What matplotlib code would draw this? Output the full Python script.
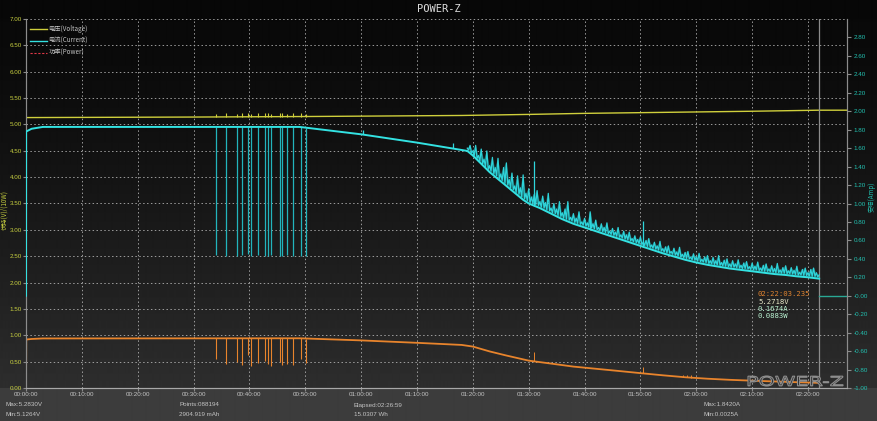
import numpy as np
import matplotlib.pyplot as plt
from matplotlib.lines import Line2D
from matplotlib.textpath import TextPath
from matplotlib.patches import PathPatch
from matplotlib.transforms import Affine2D, IdentityTransform

plt.rcParams['font.family'] = ['Liberation Sans', 'DejaVu Sans']
cjk = ['Noto Sans CJK SC', 'DejaVu Sans']

# ---- data (time in minutes) ----
x_ticks = [0, 10, 20, 30, 40, 50, 60, 70, 80, 90, 100, 110, 120, 130, 140]
x_labels = ['00:00:00', '00:10:00', '00:20:00', '00:30:00', '00:40:00', '00:50:00',
            '01:00:00', '01:10:00', '01:20:00', '01:30:00', '01:40:00', '01:50:00',
            '02:00:00', '02:10:00', '02:20:00']
t_end = 146.98      # Elapsed 02:26:59
t_cursor = 142.05   # 02:22:03.235

# voltage (V)
volt_t = [0, 30, 50, 78, 90, 100, 115, 130, 142, 146.98]
volt_v = [5.13, 5.14, 5.15, 5.17, 5.19, 5.21, 5.23, 5.25, 5.27, 5.27]

# current (A), baseline of the trace
cur_t = [0, 0.02, 1, 3, 49, 60, 70, 78, 79, 80, 81, 82, 83, 84, 85, 86, 87, 88, 89, 90,
         92, 94, 96, 98, 100, 102, 104, 106, 108, 110, 112, 114, 116, 118, 120, 122,
         124, 126, 128, 130, 132, 134, 136, 138, 140, 142]
cur_a = [0.0, 1.78, 1.81, 1.83, 1.83, 1.75, 1.66, 1.58, 1.57, 1.52, 1.46, 1.40, 1.34,
         1.29, 1.24, 1.19, 1.14, 1.09, 1.04, 1.00, 0.95, 0.89, 0.83, 0.78, 0.74, 0.70,
         0.66, 0.62, 0.58, 0.54, 0.50, 0.46, 0.425, 0.39, 0.36, 0.335, 0.315, 0.295,
         0.28, 0.265, 0.25, 0.235, 0.225, 0.21, 0.20, 0.185]
cur_tail_t = [142.05, 146.98]
cur_tail_a = [0.0, 0.0]

# noise peaks of the current trace after the knee
peak_t = [79.0, 79.5, 80.0, 80.5, 81.0, 81.5, 82.0, 82.5, 83.0, 83.5, 84.0, 84.5, 85.0,
          85.5, 86.0, 86.5, 87.0, 87.5, 88.0, 88.5, 89.0, 89.5, 90.0, 90.5, 91.0, 91.5,
          92.0, 92.5, 93.0, 93.5, 94.0, 94.5, 95.0, 95.5, 96.0, 96.5, 97.0, 97.5, 98.0,
          98.5, 99.0, 99.5, 100.0, 100.5, 101.0, 101.5, 102.0, 102.5, 103.0, 103.5,
          104.0, 104.5, 105.0, 105.5, 106.0, 106.5, 107.0, 107.5, 108.0, 108.5, 109.0,
          109.5, 110.0, 110.5, 111.0, 111.5, 112.0, 112.5, 113.0, 113.5, 114.0, 114.5,
          115.0, 115.5, 116.0, 116.5, 117.0, 117.5, 118.0, 118.5, 119.0, 119.5, 120.0,
          120.5, 121.0, 121.5, 122.0, 122.5, 123.0, 123.5, 124.0, 124.5, 125.0, 125.5,
          126.0, 126.5, 127.0, 127.5, 128.0, 128.5, 129.0, 129.5, 130.0, 130.5, 131.0,
          131.5, 132.0, 132.5, 133.0, 133.5, 134.0, 134.5, 135.0, 135.5, 136.0, 136.5,
          137.0, 137.5, 138.0, 138.5, 139.0, 139.5, 140.0, 140.5, 141.0, 141.5, 142.0]
peak_a = [1.60, 1.63, 1.57, 1.63, 1.52, 1.59, 1.48, 1.57, 1.41, 1.50, 1.39, 1.49, 1.32,
          1.39, 1.44, 1.26, 1.33, 1.19, 1.30, 1.17, 1.31, 1.11, 1.16, 1.07, 1.10, 1.14,
          1.02, 1.08, 1.01, 1.11, 0.95, 1.00, 0.94, 1.02, 0.90, 0.94, 1.02, 0.85, 0.89,
          0.84, 0.91, 0.80, 0.84, 0.79, 0.91, 0.78, 0.82, 0.74, 0.78, 0.74, 0.79, 0.70,
          0.73, 0.69, 0.74, 0.66, 0.70, 0.66, 0.69, 0.62, 0.65, 0.61, 0.64, 0.58, 0.60,
          0.62, 0.55, 0.58, 0.54, 0.59, 0.51, 0.53, 0.54, 0.48, 0.515, 0.475, 0.525,
          0.45, 0.47, 0.48, 0.42, 0.455, 0.42, 0.46, 0.395, 0.42, 0.435, 0.38, 0.415,
          0.38, 0.435, 0.36, 0.385, 0.40, 0.345, 0.38, 0.345, 0.39, 0.33, 0.355, 0.37,
          0.315, 0.355, 0.32, 0.365, 0.30, 0.33, 0.345, 0.29, 0.325, 0.295, 0.35, 0.28,
          0.305, 0.325, 0.27, 0.305, 0.275, 0.32, 0.255, 0.285, 0.30, 0.25, 0.285, 0.30,
          0.25, 0.225]
# troughs between the noise peaks (just above the baseline)
trough_t = [79.25, 79.75, 80.25, 80.75, 81.25, 81.75, 82.25, 82.75, 83.25, 83.75, 84.25,
            84.75, 85.25, 85.75, 86.25, 86.75, 87.25, 87.75, 88.25, 88.75, 89.25, 89.75,
            90.25, 90.75, 91.25, 91.75, 92.25, 92.75, 93.25, 93.75, 94.25, 94.75, 95.25,
            95.75, 96.25, 96.75, 97.25, 97.75, 98.25, 98.75, 99.25, 99.75, 100.25, 100.75,
            101.25, 101.75, 102.25, 102.75, 103.25, 103.75, 104.25, 104.75, 105.25,
            105.75, 106.25, 106.75, 107.25, 107.75, 108.25, 108.75, 109.25, 109.75,
            110.25, 110.75, 111.25, 111.75, 112.25, 112.75, 113.25, 113.75, 114.25,
            114.75, 115.25, 115.75, 116.25, 116.75, 117.25, 117.75, 118.25, 118.75,
            119.25, 119.75, 120.25, 120.75, 121.25, 121.75, 122.25, 122.75, 123.25,
            123.75, 124.25, 124.75, 125.25, 125.75, 126.25, 126.75, 127.25, 127.75,
            128.25, 128.75, 129.25, 129.75, 130.25, 130.75, 131.25, 131.75, 132.25,
            132.75, 133.25, 133.75, 134.25, 134.75, 135.25, 135.75, 136.25, 136.75,
            137.25, 137.75, 138.25, 138.75, 139.25, 139.75, 140.25, 140.75, 141.25, 141.75]
trough_a = [1.58, 1.55, 1.52, 1.49, 1.46, 1.43, 1.40, 1.37, 1.35, 1.32, 1.30, 1.27, 1.25,
            1.22, 1.20, 1.17, 1.15, 1.12, 1.10, 1.07, 1.05, 1.03, 1.01, 1.00, 0.99, 0.98,
            0.96, 0.95, 0.93, 0.92, 0.90, 0.89, 0.87, 0.86, 0.84, 0.83, 0.82, 0.81, 0.795,
            0.785, 0.775, 0.765, 0.755, 0.745, 0.735, 0.725, 0.715, 0.705, 0.695, 0.685,
            0.675, 0.665, 0.655, 0.645, 0.635, 0.625, 0.615, 0.605, 0.595, 0.585, 0.575,
            0.565, 0.555, 0.545, 0.535, 0.525, 0.515, 0.505, 0.495, 0.485, 0.475, 0.465,
            0.46, 0.45, 0.44, 0.43, 0.42, 0.41, 0.405, 0.40, 0.39, 0.385, 0.375, 0.37,
            0.365, 0.36, 0.35, 0.345, 0.34, 0.335, 0.33, 0.325, 0.32, 0.315, 0.31, 0.31,
            0.305, 0.30, 0.295, 0.295, 0.29, 0.285, 0.28, 0.28, 0.275, 0.27, 0.265, 0.265,
            0.26, 0.255, 0.25, 0.25, 0.245, 0.245, 0.24, 0.24, 0.235, 0.23, 0.225, 0.225,
            0.22, 0.22, 0.215, 0.21, 0.21, 0.205]

# isolated current spikes
c_spk_t = [60.4, 76.5, 91.0, 101.0, 110.4]
c_spk_lo = [1.75, 1.60, 0.975, 0.72, 0.53]
c_spk_hi = [1.80, 1.66, 1.46, 0.90, 0.81]

# dropouts between 00:34 and 00:50
drop_t = [34.0, 35.8, 37.8, 38.7, 39.8, 40.3, 41.6, 42.7, 43.4, 43.9, 45.4, 45.8,
          46.8, 47.8, 49.3, 50.2]
drop_cur_lo = [0.44, 0.43, 0.43, 0.44, 0.45, 0.43, 0.44, 0.43, 0.43, 0.44, 0.43, 0.43,
               0.44, 0.43, 0.43, 0.43]
drop_cur_hi = [1.83, 1.83, 1.83, 1.83, 1.83, 1.83, 1.83, 1.83, 1.83, 1.83, 1.83, 1.83,
               1.83, 1.83, 1.83, 1.82]
drop_pw_lo = [0.55, 0.45, 0.50, 0.44, 0.62, 0.42, 0.48, 0.52, 0.45, 0.42, 0.50, 0.44,
              0.46, 0.43, 0.55, 0.47]
drop_pw_hi = [0.94, 0.94, 0.94, 0.94, 0.94, 0.94, 0.94, 0.94, 0.94, 0.94, 0.94, 0.94,
              0.94, 0.94, 0.94, 0.93]
drop_v_lo = [5.14, 5.14, 5.14, 5.14, 5.14, 5.14, 5.14, 5.145, 5.145, 5.145, 5.145,
             5.145, 5.145, 5.15, 5.15, 5.15]
drop_v_hi = [5.20, 5.21, 5.20, 5.21, 5.22, 5.20, 5.21, 5.22, 5.21, 5.20, 5.22, 5.21,
             5.20, 5.22, 5.21, 5.20]

# power (W / 10)
pw_t = [0, 0.05, 1, 3, 49, 60, 70, 78, 80, 83, 86, 90, 94, 98, 102, 106, 110, 114, 118,
        122, 126, 130, 134, 138, 142]
pw_v = [0.0, 0.92, 0.93, 0.94, 0.943, 0.903, 0.857, 0.817, 0.786, 0.694, 0.616, 0.519,
        0.463, 0.406, 0.365, 0.324, 0.282, 0.241, 0.204, 0.176, 0.155, 0.139, 0.124,
        0.110, 0.0975]
p_spk_t = [91.0, 110.4, 117.6, 118.3, 119.1]
p_spk_lo = [0.52, 0.29, 0.205, 0.20, 0.195]
p_spk_hi = [0.68, 0.40, 0.25, 0.24, 0.25]

c_volt = '#cfcf3c'
c_cur = '#33e2e2'
c_pw = '#e8842c'
c_txt = '#c4c4c4'

W, H = 877, 421
fig = plt.figure(figsize=(W / 100, H / 100), dpi=100)

# background gradient
bg = fig.add_axes([0, 0, 1, 1], zorder=-10)
rows = np.arange(H)
s = np.clip((rows - 19) / (388 - 19), 0, 1)
lev = 0.035 + 0.145 * s ** 1.4
lev[rows >= 388] = 0.235
lev[rows < 19] = 0.03
bg.imshow(np.repeat(lev[:, None], 2, axis=1), cmap='gray', vmin=0, vmax=1,
          aspect='auto', interpolation='bilinear')
bg.axis('off')

ax = fig.add_axes([26 / W, (H - 388) / H, 821 / W, 369 / H])
ax.set_facecolor('none')
ax2 = ax.twinx()

ax.set_xlim(0, t_end)
ax.set_ylim(0, 7)
ax2.set_ylim(-1, 3)

ax.set_xticks(x_ticks)
ax.set_xticklabels(x_labels)
ax.set_yticks(np.arange(0, 7.01, 0.5))
ax.set_yticklabels(['%.2f' % v for v in np.arange(0, 7.01, 0.5)])
ax2.set_yticks(np.arange(-1, 2.81, 0.2))
ax2.set_yticklabels(['%.2f' % v for v in np.arange(-1, 2.81, 0.2)])

ax.grid(True, color='#b4b4b4', linestyle=(0, (1.5, 2.5)), linewidth=0.7, alpha=0.85)
ax.set_axisbelow(True)

ax.tick_params(axis='x', colors='#8a8a8a', labelcolor=c_txt, labelsize=4.5, length=2, pad=1)
ax.tick_params(axis='y', colors='#8a8a8a', labelcolor='#c8d040', labelsize=4.5, length=2, pad=1)
ax2.tick_params(axis='y', colors='#8a8a8a', labelcolor='#22c0b0', labelsize=4.5, length=3, pad=2)
for a in (ax, ax2):
    a.spines['top'].set_visible(False)
    a.spines['left'].set_color('#8c8c8c')
    a.spines['right'].set_color('#8c8c8c')
    a.spines['bottom'].set_color('#a8a8a8')

# voltage
ax.plot(volt_t, volt_v, color=c_volt, lw=1.0, zorder=3)
ax.vlines(drop_t, drop_v_lo, drop_v_hi, color=c_volt, lw=0.8, zorder=3)

# power
ax.plot(pw_t, pw_v, color=c_pw, lw=1.3, zorder=3)
ax.vlines(drop_t, drop_pw_lo, drop_pw_hi, color=c_pw, lw=0.8, zorder=3)
ax.vlines(p_spk_t, p_spk_lo, p_spk_hi, color=c_pw, lw=0.7, zorder=3)

# current: noisy trace after the knee (peaks and troughs in time order)
knee = [i for i, t in enumerate(cur_t) if t >= 79]
ax2.fill(list(peak_t) + [cur_t[i] for i in knee[::-1]],
         list(peak_a) + [cur_a[i] for i in knee[::-1]],
         color='#20b4bc', alpha=0.35, lw=0, zorder=2)
noise = sorted(list(zip(peak_t, peak_a)) + list(zip(trough_t, trough_a)))
ax2.plot([p[0] for p in noise], [p[1] for p in noise], color='#2ed4da', lw=0.9, zorder=2)
ax2.vlines(drop_t, drop_cur_lo, drop_cur_hi, color='#22b4bc', lw=0.9, zorder=2)
ax2.vlines(c_spk_t, c_spk_lo, c_spk_hi, color='#2fd6dc', lw=0.9, zorder=2)
ax2.plot(cur_t, cur_a, color=c_cur, lw=1.4, zorder=3)
ax2.plot(cur_tail_t, cur_tail_a, color='#2aa894', lw=1.0, zorder=3)

# cursor line
ax.axvline(t_cursor, color='#8c8c8c', lw=0.9, zorder=4)

# legend
handles = [Line2D([], [], color=c_volt, lw=1.0),
           Line2D([], [], color=c_cur, lw=1.0),
           Line2D([], [], color='#e03848', lw=0.8, linestyle=(0, (2, 1.5)))]
leg = ax.legend(handles, ['电压(Voltage)', '电流(Current)', '功率(Power)'],
                loc='upper left', bbox_to_anchor=(0.0, 0.995), frameon=False,
                prop={'family': cjk, 'size': 4.5}, handlelength=2.6,
                handletextpad=0.3, labelspacing=0.6, borderaxespad=0.3)
for txt in leg.get_texts():
    txt.set_color(c_txt)

# axis titles
fig.text(4 / W, 1 - 210 / H, '伏特(V)/(10W)', rotation=90, ha='center', va='center',
         color='#c8d040', fontsize=4.5, family=cjk)
fig.text(872 / W, 1 - 197 / H, '安培(Amp)', rotation=90, ha='center', va='center',
         color='#22c0b0', fontsize=4.5, family=cjk)

# title
fig.text(0.5, 1 - 9 / H, 'POWER-Z', ha='center', va='center', color='#dcdcdc',
         fontsize=7.5, family='DejaVu Sans Mono')

# cursor readout
mono = 'DejaVu Sans Mono'
fig.text(758 / W, 1 - 294 / H, '02:22:03.235', color='#e08430', fontsize=5.2, family=mono, va='center')
fig.text(758 / W, 1 - 302 / H, '5.2718V', color='#e8e8c8', fontsize=5.2, family=mono, va='center')
fig.text(758 / W, 1 - 309 / H, '0.1674A', color='#b8f0d0', fontsize=5.2, family=mono, va='center')
fig.text(758 / W, 1 - 316 / H, '0.0883W', color='#b8f0d0', fontsize=5.2, family=mono, va='center')

# statistics at the bottom
stats = [(5, 'Max:5.2830V', 'Min:5.1264V'),
         (179, 'Points:088194', '2904.919 mAh'),
         (354, 'Elapsed:02:26:59', '15.0307 Wh'),
         (703, 'Max:1.8420A', 'Min:0.0025A')]
for x0, l1, l2 in stats:
    fig.text(x0 / W, 1 - 405 / H, l1, color=c_txt, fontsize=4.5, va='center')
    fig.text(x0 / W, 1 - 414 / H, l2, color=c_txt, fontsize=4.5, va='center')

# watermark
tp = TextPath((0, 0), 'POWER-Z', size=10, prop={'family': 'DejaVu Sans'})
bb = tp.get_extents()
tr = Affine2D().translate(-bb.x0, -bb.y0).scale(95 / bb.width, 10 / bb.height).translate(748, H - 386)
fig.add_artist(PathPatch(tp, transform=tr + IdentityTransform(), facecolor='#303030',
                         edgecolor='#8e8e8e', lw=0.8, zorder=5))

fig.savefig('out.png', dpi=100, facecolor='#0a0a0a')
